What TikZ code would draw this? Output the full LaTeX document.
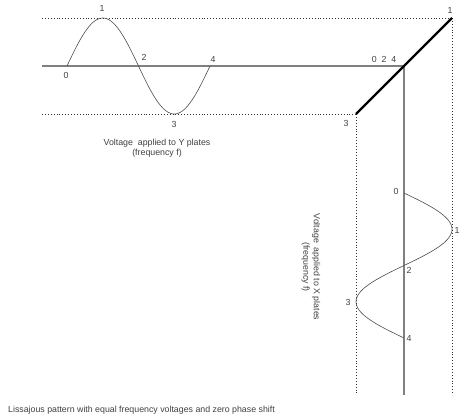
\documentclass[tikz,border=0pt]{standalone}
\usepackage{fontspec}
\setmainfont{Liberation Sans}
\usepackage{tikz}

\begin{document}
\begin{tikzpicture}[x=1pt,y=-1pt,
	axis/.style = {draw=gray, line width=1.1pt},
	wave/.style = {draw=black!70, line width=0.6pt},
	guide/.style = {draw=black!80, line width=0.9pt, dotted},
	lbl/.style = {text=black!75, font=\fontsize{8.8}{10.5}\selectfont, inner sep=1pt}]
	\useasboundingbox (0,0) rectangle (474,420);
	% corners of the frame
	\coordinate (yl) at (42,66);
	\coordinate (o) at (404,66);
	\coordinate (tl) at (42,18);
	\coordinate (tr) at (452,18);
	\coordinate (bl) at (42,114);
	\coordinate (br) at (356,114);
	\coordinate (ob) at (404,395);
	\coordinate (trb) at (452,395);
	\coordinate (brb) at (356,395);

	\draw [guide] (tl) -- (tr);
	\draw [guide] (bl) -- (br);
	\draw [guide] (tr) -- (trb);
	\draw [guide] (br) -- (brb);
	\draw [axis] (yl) -- (o);
	\draw [axis] (o) -- (ob);
	\draw [line width=2.2pt] (br) -- (tr);

	% Y plates voltage
	\draw [wave] plot [domain=0:360, samples=73, smooth] ({67+\x/360*143},{66-48*sin(\x)});
	% X plates voltage
	\draw [wave] plot [domain=0:360, samples=73, smooth] ({404+48*sin(\x)},{193+\x/360*145});

	\node [lbl] (y1) at (102,8) {1};
	\node [lbl] (y0) at (66,75) {0};
	\node [lbl] (y2) at (144,57) {2};
	\node [lbl] (y4) at (213,59) {4};
	\node [lbl] (y3) at (174,124) {3};
	\node [lbl] (d1) at (450,10) {1};
	\node [lbl] (d024) at (384,59) {0\ \ 2\ \ 4};
	\node [lbl] (d3) at (346,123) {3};
	\node [lbl] (x0) at (396,191) {0};
	\node [lbl] (x1) at (457,230) {1};
	\node [lbl] (x2) at (409,270) {2};
	\node [lbl] (x3) at (348,302) {3};
	\node [lbl] (x4) at (409,338) {4};

	\node [lbl, align=center] (ycap) at (157,148) {Voltage\ \ applied to Y plates\\(frequency f)};
	\node [lbl, align=center, rotate=-90] (xcap) at (311,267) {Voltage\ \ applied to X plates\\(frequency f)};
	\node [lbl, anchor=west] (cap) at (7,410) {Lissajous pattern with equal frequency voltages and zero phase shift};
\end{tikzpicture}
\end{document}
